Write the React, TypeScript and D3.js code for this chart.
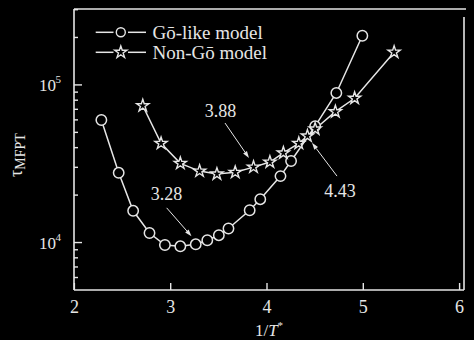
import React from "react";
import * as d3 from "d3";

const goX = [2.28, 2.46, 2.61, 2.78, 2.94, 3.1, 3.26, 3.38, 3.5, 3.6, 3.82, 3.93, 4.14, 4.25, 4.5, 4.72, 4.99];
const goY = [59900, 27700, 15900, 11500, 9650, 9470, 9750, 10340, 11130, 12280, 16030, 18830, 26400, 32900, 54800, 88900, 205000];
const nonGoX = [2.71, 2.9, 3.1, 3.3, 3.48, 3.67, 3.86, 4.03, 4.17, 4.33, 4.42, 4.5, 4.71, 4.91, 5.32];
const nonGoY = [73800, 42600, 31800, 28400, 27200, 27900, 30100, 32400, 37000, 42600, 47400, 52500, 67600, 82300, 161400];
const xTicks = [2, 3, 4, 5, 6];
const yMajor = [4, 5];
const yMinor = [6000, 7000, 8000, 9000, 20000, 30000, 40000, 50000, 60000, 70000, 80000, 90000, 200000, 300000];
const legendLabels = ["Gō-like model", "Non-Gō model"];
const annLabels = ["3.88", "3.28", "4.43"];
const annText = [[3.517, 62600], [2.956, 18600], [4.758, 19400]];
const annFrom = [[3.564, 57300], [2.958, 16600], [4.727, 26400]];
const annTo = [[3.813, 34400], [3.216, 10960], [4.467, 42900]];

const W = 474, H = 340;
const L = 74, R = 464, T = 9, B = 290;
const FG = "#e6e6e6";
const FONT = "'Liberation Serif', 'Times New Roman', serif";

export default function App() {
  const x = d3.scaleLinear().domain([2, 6]).range([74.4, 459.6]);
  const y = d3.scaleLog().domain([5000, 300000]).range([B, T + 0.7]);
  const line = d3.line<[number, number]>().x(d => x(d[0])).y(d => y(d[1]));
  const go = goX.map((v, i) => [v, goY[i]] as [number, number]);
  const ngo = nonGoX.map((v, i) => [v, nonGoY[i]] as [number, number]);
  const star = d3.symbol().type(d3.symbolStar).size(46)() as string;

  const arrow = (i: number) => {
    const x1 = x(annFrom[i][0]), y1 = y(annFrom[i][1]);
    const x2 = x(annTo[i][0]), y2 = y(annTo[i][1]);
    const a = Math.atan2(y2 - y1, x2 - x1);
    const len = 7, wd = 2.3;
    const bx = x2 - len * Math.cos(a), by = y2 - len * Math.sin(a);
    const p = [
      [x2, y2],
      [bx + wd * Math.sin(a), by - wd * Math.cos(a)],
      [bx - wd * Math.sin(a), by + wd * Math.cos(a)],
    ];
    return (
      <g key={i}>
        <line x1={x1} y1={y1} x2={bx} y2={by} stroke={FG} strokeWidth={1} />
        <polygon points={p.map(q => q.join(",")).join(" ")} fill={FG} />
        <text x={x(annText[i][0])} y={y(annText[i][1])} textAnchor="middle" fontSize={18} fill={FG}>{annLabels[i]}</text>
      </g>
    );
  };

  return (
    <div style={{ position: "fixed", left: 0, top: 0, width: W, height: H, background: "#000" }}>
      <svg width={W} height={H} style={{ display: "block", fontFamily: FONT }}>
        <rect width={W} height={H} fill="#000" />
        {/* frame */}
        <line x1={L} y1={T} x2={R + 2} y2={T} stroke={FG} strokeWidth={1.6} />
        <line x1={L} y1={T} x2={L} y2={B} stroke={FG} strokeWidth={1.6} />
        <line x1={L} y1={B} x2={R} y2={B} stroke={FG} strokeWidth={1.6} />
        <line x1={R} y1={17} x2={R} y2={B} stroke={FG} strokeWidth={1.6} />
        {/* x ticks */}
        {xTicks.map(t => (
          <g key={t}>
            <line x1={x(t)} x2={x(t)} y1={B} y2={B - 7} stroke={FG} strokeWidth={1.4} />
            <text x={x(t)} y={313} textAnchor="middle" fontSize={18} fill={FG}>{t}</text>
          </g>
        ))}
        {/* y ticks */}
        {yMajor.map(e => (
          <g key={e}>
            <line x1={L} x2={L + 8} y1={y(10 ** e)} y2={y(10 ** e)} stroke={FG} strokeWidth={1.4} />
            <text x={56} y={y(10 ** e) + 6} textAnchor="end" fontSize={17} fill={FG}>10</text>
            <text x={55.5} y={y(10 ** e) - 2} textAnchor="start" fontSize={11} fill={FG}>{e}</text>
          </g>
        ))}
        {yMinor.map(v => (
          <line key={v} x1={L} x2={L + 4} y1={y(v)} y2={y(v)} stroke={FG} strokeWidth={1.4} />
        ))}
        {/* axis labels */}
        <text x={269} y={336} textAnchor="middle" fontSize={17} fill={FG}>
          1/<tspan fontStyle="italic">T</tspan><tspan fontSize={11} dy={-7}>*</tspan>
        </text>
        <text transform="translate(22,177) rotate(-90)" fontSize={18} fill={FG}>
          τ<tspan fontSize={14} dy={3}>MFPT</tspan>
        </text>
        {/* series */}
        <path d={line(go) || ""} fill="none" stroke={FG} strokeWidth={1.5} />
        <path d={line(ngo) || ""} fill="none" stroke={FG} strokeWidth={1.5} />
        {go.map((d, i) => (
          <circle key={"g" + i} cx={x(d[0])} cy={y(d[1])} r={5.2} fill="#000" stroke={FG} strokeWidth={1.5} />
        ))}
        {ngo.map((d, i) => (
          <path key={"n" + i} d={star} transform={`translate(${x(d[0])},${y(d[1])})`} fill="#000" stroke={FG} strokeWidth={1.4} />
        ))}
        {/* annotations */}
        {annLabels.map((_, i) => arrow(i))}
        {/* legend */}
        {legendLabels.map((lab, i) => {
          const ly = 32.3 + i * 20;
          return (
            <g key={lab}>
              <line x1={95.7} x2={113.5} y1={ly} y2={ly} stroke={FG} strokeWidth={1.5} />
              <line x1={128} x2={146} y1={ly} y2={ly} stroke={FG} strokeWidth={1.5} />
              {i === 0 ? (
                <circle cx={120.8} cy={ly} r={4.5} fill="#000" stroke={FG} strokeWidth={1.4} />
              ) : (
                <path d={star} transform={`translate(120.8,${ly})`} fill="#000" stroke={FG} strokeWidth={1.4} />
              )}
              <text x={152.5} y={ly + 6.5} fontSize={19} fill={FG}>{lab}</text>
            </g>
          );
        })}
      </svg>
    </div>
  );
}
